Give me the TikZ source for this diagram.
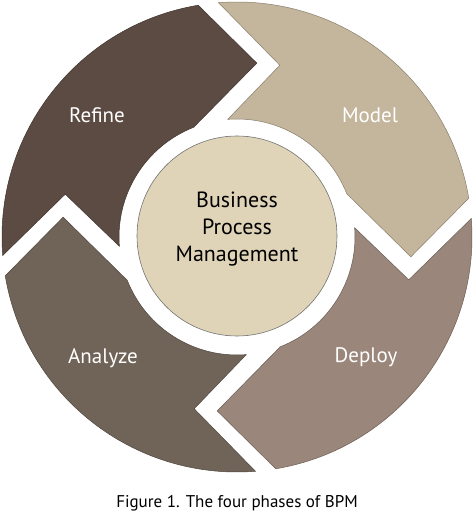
\documentclass[tikz,border=0pt]{standalone}
\usepackage{fontspec}
\setmainfont{PT Sans}
\usetikzlibrary{positioning}
\definecolor{refineszin}{HTML}{5B4B42}
\definecolor{modelszin}{HTML}{C4B69C}
\definecolor{deployszin}{HTML}{9A867A}
\definecolor{analyzeszin}{HTML}{706458}
\definecolor{kozepszin}{HTML}{E0D4B8}
\tikzset{
  fazis/.style={draw=#1!70!black,line width=0.5pt,fill=#1},
  felirat/.style={text=white,font=\fontsize{21}{24}\selectfont},
  kozep/.style={circle,draw=black!55,line width=0.6pt,fill=kozepszin,
    minimum size=200pt,inner sep=0pt},
}

\begin{document}
\begin{tikzpicture}[x=1pt,y=1pt]
  \useasboundingbox (-237,-276) rectangle (237,237);
  % four phases, clockwise, tail notch at angle \a
  \foreach \a/\szin in {94.5/modelszin,4.5/deployszin,-85.5/analyzeszin,184.5/refineszin}
    \filldraw[fazis=\szin] (\a:235) arc[start angle=\a,end angle=\a-85,radius=235]
      -- (\a-101:175) -- (\a-73:118) arc[start angle=\a-73,end angle=\a,radius=118]
      -- (\a-18.5:177) -- cycle;
  \node[felirat] (refine) at (-140,122) {Refine};
  \node[felirat] (model) at (133,122) {Model};
  \node[felirat] (analyze) at (-134,-121) {Analyze};
  \node[felirat] (deploy) at (129,-120) {Deploy};
  \node[kozep] (bpm) at (0,1) {};
  \node[align=center,font=\fontsize{22}{27}\selectfont] (bpmtext) at (0,8)
    {Business\\Process\\Management};
  \node[font=\fontsize{17}{20}\selectfont] (caption) at (0,-266)
    {Figure 1. The four phases of BPM};
\end{tikzpicture}
\end{document}
